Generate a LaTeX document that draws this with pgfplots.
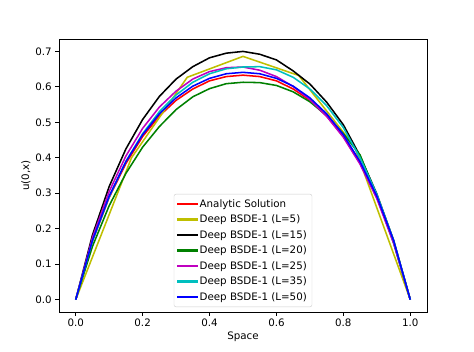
\documentclass[border=0pt]{standalone}
\usepackage{fontspec}
\setmainfont{DejaVu Sans}
\usepackage{pgfplots}
\pgfplotsset{compat=1.18}
\usepackage{pgfplotstable}
\definecolor{mplr}{rgb}{1,0,0}
\definecolor{mply}{rgb}{0.75,0.75,0}
\definecolor{mplk}{rgb}{0,0,0}
\definecolor{mplg}{rgb}{0,0.5,0}
\definecolor{mplm}{rgb}{0.75,0,0.75}
\definecolor{mplc}{rgb}{0,0.75,0.75}
\definecolor{mplb}{rgb}{0,0,1}
\pgfplotstableread{
x red blue black green magenta cyan
0.00 0.000 0.000 0.000 0.000 0.000 0.000
0.05 0.165 0.167 0.182 0.150 0.175 0.165
0.10 0.288 0.292 0.319 0.265 0.305 0.290
0.15 0.384 0.389 0.425 0.356 0.405 0.390
0.20 0.460 0.465 0.508 0.430 0.483 0.468
0.25 0.518 0.524 0.573 0.488 0.543 0.530
0.30 0.562 0.569 0.622 0.536 0.588 0.577
0.35 0.594 0.602 0.657 0.572 0.622 0.613
0.40 0.617 0.624 0.682 0.595 0.643 0.637
0.45 0.629 0.637 0.695 0.609 0.654 0.651
0.50 0.633 0.641 0.700 0.613 0.656 0.656
0.55 0.629 0.637 0.692 0.612 0.647 0.657
0.60 0.617 0.624 0.676 0.604 0.629 0.648
0.65 0.594 0.602 0.645 0.586 0.601 0.627
0.70 0.562 0.569 0.608 0.558 0.564 0.594
0.75 0.518 0.524 0.557 0.519 0.517 0.547
0.80 0.460 0.465 0.493 0.468 0.458 0.485
0.85 0.384 0.389 0.405 0.408 0.382 0.400
0.90 0.288 0.292 0.298 0.292 0.285 0.297
0.95 0.165 0.167 0.168 0.160 0.160 0.168
1.00 0.000 0.000 0.000 0.000 0.000 0.000
}\curves
\pgfplotstableread{
x y
0.0000 0.000
0.1667 0.400
0.3333 0.627
0.5000 0.686
0.6667 0.632
0.8333 0.432
1.0000 0.000
}\yellowcurve
\begin{document}
\begin{tikzpicture}
\path[use as bounding box] (-57.35pt,-37.9pt) rectangle (403.4pt,303.3pt);
\begin{axis}[
  at={(0,0)}, anchor=south west,
  scale only axis, width=357.7pt, height=265.4pt,
  xmin=-0.05, xmax=1.05, ymin=-0.035, ymax=0.735,
  xtick={0,0.2,0.4,0.6,0.8,1.0},
  ytick={0,0.1,0.2,0.3,0.4,0.5,0.6,0.7},
  xticklabel style={/pgf/number format/.cd, fixed, fixed zerofill, precision=1},
  yticklabel style={/pgf/number format/.cd, fixed, fixed zerofill, precision=1},
  /pgf/number format/assume math mode=true,
  tick label style={font=\fontsize{10}{12}\selectfont},
  label style={font=\fontsize{10}{12}\selectfont},
  tick align=outside, major tick length=3.5pt,
  xtick pos=bottom, ytick pos=left,
  tick style={black, line width=0.8pt},
  axis line style={line width=0.8pt},
  xlabel={Space}, ylabel={u(0,x)},
  xlabel style={yshift=2pt},
  ylabel style={yshift=-2pt},
  legend style={at={(0.5,0.018)}, anchor=south, font=\fontsize{10}{12}\selectfont,
    draw=black!20, fill=white, rounded corners=2pt, row sep=2.0pt, inner xsep=3pt, inner ysep=3pt},
  legend cell align=left,
  legend image code/.code={\fill[#1, draw=none, sharp corners] (0cm,-1.1pt) rectangle (0.7cm,1.1pt);},
]
\addplot[color=mplr, line width=1.5pt, no marks] table[x=x, y=red] {\curves};
\addlegendentry{Analytic Solution}
\addplot[color=mply, line width=1.5pt, no marks] table[x=x, y=y] {\yellowcurve};
\addlegendentry{Deep BSDE-1 (L=5)}
\addplot[color=mplk, line width=1.5pt, no marks] table[x=x, y=black] {\curves};
\addlegendentry{Deep BSDE-1 (L=15)}
\addplot[color=mplg, line width=1.5pt, no marks] table[x=x, y=green] {\curves};
\addlegendentry{Deep BSDE-1 (L=20)}
\addplot[color=mplm, line width=1.5pt, no marks] table[x=x, y=magenta] {\curves};
\addlegendentry{Deep BSDE-1 (L=25)}
\addplot[color=mplc, line width=1.5pt, no marks] table[x=x, y=cyan] {\curves};
\addlegendentry{Deep BSDE-1 (L=35)}
\addplot[color=mplb, line width=1.5pt, no marks] table[x=x, y=blue] {\curves};
\addlegendentry{Deep BSDE-1 (L=50)}
\end{axis}
\end{tikzpicture}
\end{document}
